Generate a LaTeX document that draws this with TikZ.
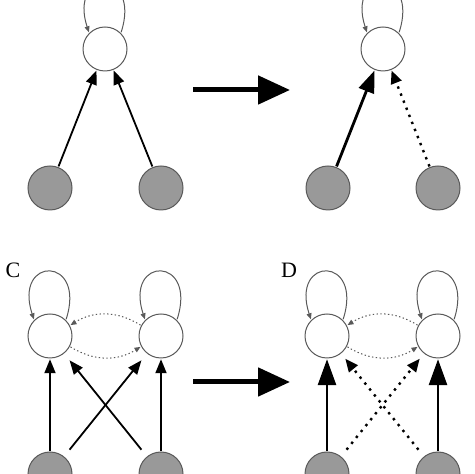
\documentclass[tikz,border=0pt]{standalone}
\usepackage{fontspec}
\setmainfont{Liberation Serif}
\usetikzlibrary{arrows.meta}
\tikzset{
  unit/.style={circle,draw=black!65,fill=white,line width=0.5pt,minimum size=22pt,inner sep=0pt,outer sep=0.6pt},
  input/.style={unit,fill=black!40},
  link/.style={-{Triangle[length=7pt,width=5.5pt]},line width=0.9pt},
  strong/.style={-{Triangle[length=13pt,width=9pt]},line width=1.4pt},
  weak/.style={-{Triangle[length=6.5pt,width=5.5pt]},line width=1.2pt,dash pattern=on 1.2pt off 2.6pt},
  self/.style={-{Triangle[length=3pt,width=2.5pt]},draw=black!65,line width=0.5pt},
  lateral/.style={self,dash pattern=on 0.7pt off 1.2pt},
  bigarrow/.style={-{Triangle[length=16pt,width=14pt]},line width=2.5pt},
  panel/.style={font=\fontsize{11}{12}\selectfont}
}

\begin{document}
\begin{tikzpicture}[x=0.5pt,y=0.5pt]
\useasboundingbox (0,0) rectangle (474,474);
% top left
\node[unit] (wA) at (105,425) {};
\node[input] (gA1) at (50,286) {};
\node[input] (gA2) at (161,286) {};
\draw[self] (wA.46) to[out=72,in=108,distance=33.5pt] (wA.134);
\draw[link] (gA1) -- (wA);
\draw[link] (gA2) -- (wA);
% top right
\node[unit] (wB) at (383,425) {};
\node[input] (gB1) at (328,286) {};
\node[input] (gB2) at (438,286) {};
\draw[self] (wB.46) to[out=72,in=108,distance=33.5pt] (wB.134);
\draw[strong,-{Triangle[length=11pt,width=8pt]}] (gB1) -- (wB);
\draw[weak] (gB2) -- (wB);
% C
\node[panel] (labC) at (13,204) {C};
\node[unit] (wC1) at (50,138) {};
\node[unit] (wC2) at (161,138) {};
\node[input] (gC1) at (50,0) {};
\node[input] (gC2) at (161,0) {};
\draw[self] (wC1.46) to[out=72,in=108,distance=33.5pt] (wC1.134);
\draw[self] (wC2.46) to[out=72,in=108,distance=33.5pt] (wC2.134);
\draw[lateral] (wC2.152) to[bend right=32] (wC1.28);
\draw[lateral] (wC1.-28) to[bend right=32] (wC2.-152);
\draw[link] (gC1) -- (wC1);
\draw[link] (gC2) -- (wC2);
\draw[link,shorten <=4pt,shorten >=4pt] (gC1) -- (wC2);
\draw[link,shorten <=4pt,shorten >=4pt] (gC2) -- (wC1);
% D
\node[panel] (labD) at (289,204) {D};
\node[unit] (wD1) at (327,138) {};
\node[unit] (wD2) at (438,138) {};
\node[input] (gD1) at (327,0) {};
\node[input] (gD2) at (438,0) {};
\draw[self] (wD1.46) to[out=72,in=108,distance=33.5pt] (wD1.134);
\draw[self] (wD2.46) to[out=72,in=108,distance=33.5pt] (wD2.134);
\draw[lateral] (wD2.152) to[bend right=32] (wD1.28);
\draw[lateral] (wD1.-28) to[bend right=32] (wD2.-152);
\draw[strong] (gD1) -- (wD1);
\draw[strong] (gD2) -- (wD2);
\draw[weak,shorten <=4pt,shorten >=3pt] (gD1) -- (wD2);
\draw[weak,shorten <=4pt,shorten >=3pt] (gD2) -- (wD1);
% learning steps
\coordinate (s1) at (193,384);
\coordinate (e1) at (290,384);
\coordinate (s2) at (193,92);
\coordinate (e2) at (290,92);
\draw[bigarrow] (s1) -- (e1);
\draw[bigarrow] (s2) -- (e2);
\end{tikzpicture}
\end{document}
